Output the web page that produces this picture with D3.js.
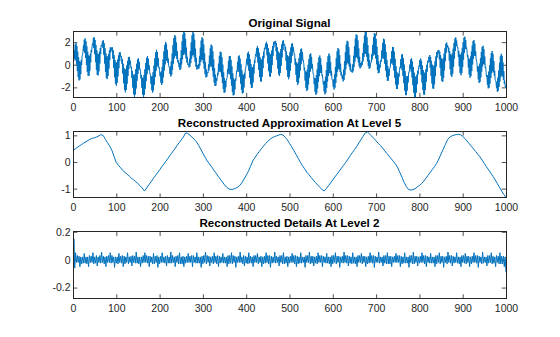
<!DOCTYPE html>
<html><head><meta charset="utf-8">
<script src="https://cdn.jsdelivr.net/npm/d3@7"></script>
<style>body{margin:0;background:#fff}svg{display:block}</style>
</head><body><svg id="c" width="560" height="337"></svg>
<script>
// ---------------- data ----------------
const xTicks = [0,100,200,300,400,500,600,700,800,900,1000];
const titles = ["Original Signal","Reconstructed Approximation At Level 5","Reconstructed Details At Level 2"];
const yTicksOriginal = [-2,0,2];
const yTicksApprox = [-1,0,1];
const yTicksDetails = [-0.2,0,0.2];
const yLimOriginal = [-2.87,2.96];
const yLimApprox = [-1.34,1.152];
const yLimDetails = [-0.279,0.2];

// Original signal, samples 1..1000
const originalStart = 1, originalStep = 1;
const original = [
0.47,0.35,1.28,0.52,1.80,0.40,1.91,0.01,1.65,-0.55,1.16,-1.08,0.66,-1.38,0.31,-1.30,0.23,-0.82,0.43,-0.02,
0.77,0.89,1.10,1.71,1.23,2.21,1.06,2.33,0.60,2.09,-0.02,1.63,-0.62,1.15,-0.98,0.83,-0.97,0.78,-0.53,0.97,0.22,
1.32,1.09,1.62,1.87,1.70,2.35,1.47,2.45,0.94,2.20,0.23,1.75,-0.45,1.28,-0.89,0.98,-0.94,0.94,-0.58,1.15,0.11,
1.48,0.93,1.75,1.65,1.79,2.09,1.50,2.17,0.90,1.91,0.11,1.46,-0.64,1.01,-1.15,0.73,-1.27,0.72,-0.98,0.94,-0.35,
1.27,0.41,1.53,1.09,1.54,1.49,1.21,1.54,0.55,1.28,-0.28,0.84,-1.10,0.42,-1.67,0.18,-1.85,0.20,-1.60,0.46,-1.03,
0.82,-0.31,1.09,0.33,1.10,0.71,0.76,0.75,0.07,0.50,-0.79,0.09,-1.63,-0.29,-2.23,-0.48,-2.44,-0.39,-2.23,-0.07,-1.68,
0.35,-0.99,0.67,-0.38,0.70,-0.01,0.38,0.04,-0.30,-0.19,-1.17,-0.55,-2.01,-0.88,-2.61,-0.98,-2.83,-0.81,-2.63,-0.40,-2.09,
0.09,-1.41,0.47,-0.81,0.56,-0.44,0.27,-0.38,-0.37,-0.58,-1.21,-0.90,-2.04,-1.15,-2.64,-1.17,-2.85,-0.91,-2.65,-0.41,-2.12,
0.16,-1.45,0.62,-0.85,0.77,-0.48,0.54,-0.42,-0.06,-0.60,-0.87,-0.87,-1.68,-1.05,-2.25,-1.01,-2.46,-0.66,-2.26,-0.08,-1.75,
0.57,-1.09,1.10,-0.52,1.32,-0.17,1.13,-0.11,0.57,-0.29,-0.22,-0.54,-1.01,-0.69,-1.58,-0.59,-1.79,-0.18,-1.60,0.47,-1.11,
1.18,-0.50,1.76,0.03,2.02,0.34,1.86,0.36,1.31,0.16,0.55,-0.10,-0.24,-0.24,-0.82,-0.12,-1.04,0.31,-0.89,0.99,-0.45,
1.75,0.11,2.36,0.57,2.63,0.80,2.49,0.75,1.96,0.50,1.19,0.21,0.40,0.04,-0.21,0.16,-0.47,0.60,-0.36,1.29,0.02,
2.06,0.49,2.68,0.87,2.96,1.02,2.82,0.89,2.29,0.56,1.51,0.20,0.70,0.00,0.07,0.09,-0.23,0.52,-0.17,1.21,0.14,
1.98,0.54,2.60,0.83,2.89,0.88,2.75,0.66,2.21,0.25,1.42,-0.17,0.61,-0.42,-0.03,-0.36,-0.35,0.06,-0.33,0.74,-0.08,
1.51,0.25,2.14,0.46,2.43,0.43,2.30,0.13,1.78,-0.35,1.01,-0.83,0.21,-1.12,-0.42,-1.07,-0.74,-0.66,-0.73,0.03,-0.50,
0.81,-0.22,1.45,-0.07,1.78,-0.16,1.68,-0.52,1.19,-1.05,0.46,-1.57,-0.30,-1.88,-0.88,-1.85,-1.18,-1.43,-1.15,-0.72,-0.92,
0.09,-0.65,0.78,-0.53,1.15,-0.66,1.10,-1.05,0.68,-1.62,0.01,-2.15,-0.68,-2.47,-1.20,-2.43,-1.43,-1.99,-1.37,-1.25,-1.11,
-0.40,-0.83,0.34,-0.70,0.76,-0.85,0.78,-1.27,0.43,-1.84,-0.15,-2.39,-0.76,-2.71,-1.20,-2.66,-1.35,-2.19,-1.23,-1.42,-0.92,
-0.53,-0.62,0.25,-0.49,0.74,-0.64,0.82,-1.07,0.54,-1.66,0.04,-2.22,-0.48,-2.54,-0.83,-2.48,-0.92,-2.01,-0.72,-1.22,-0.38,
-0.30,-0.05,0.51,0.09,1.03,-0.07,1.16,-0.52,0.94,-1.14,0.51,-1.72,0.06,-2.06,-0.22,-2.02,-0.23,-1.56,0.01,-0.77,0.39,
0.14,0.74,0.96,0.87,1.49,0.68,1.65,0.19,1.46,-0.46,1.07,-1.09,0.67,-1.48,0.44,-1.47,0.47,-1.05,0.75,-0.30,1.15,
0.58,1.49,1.37,1.60,1.88,1.37,2.03,0.84,1.84,0.12,1.47,-0.57,1.10,-1.02,0.90,-1.08,0.96,-0.72,1.26,-0.03,1.66,
0.79,1.99,1.53,2.07,2.00,1.80,2.11,1.20,1.91,0.42,1.53,-0.35,1.17,-0.87,0.99,-1.00,1.07,-0.72,1.39,-0.10,1.80,
0.65,2.11,1.32,2.16,1.73,1.84,1.80,1.19,1.58,0.35,1.19,-0.48,0.84,-1.07,0.68,-1.28,0.78,-1.06,1.12,-0.52,1.54,
0.17,1.86,0.78,1.89,1.13,1.55,1.16,0.87,0.91,-0.02,0.53,-0.89,0.19,-1.53,0.06,-1.79,0.21,-1.62,0.58,-1.14,1.04,
-0.51,1.38,0.05,1.43,0.37,1.10,0.37,0.40,0.11,-0.50,-0.26,-1.39,-0.57,-2.05,-0.64,-2.32,-0.44,-2.19,0.00,-1.74,0.52,
-1.14,0.91,-0.62,1.00,-0.33,0.70,-0.34,0.03,-0.59,-0.85,-0.93,-1.72,-1.19,-2.38,-1.20,-2.66,-0.92,-2.53,-0.40,-2.09,0.20,
-1.51,0.67,-1.01,0.82,-0.73,0.57,-0.74,-0.05,-0.98,-0.89,-1.29,-1.73,-1.49,-2.36,-1.43,-2.62,-1.07,-2.48,-0.47,-2.05,0.22,
-1.48,0.76,-0.99,0.99,-0.73,0.81,-0.75,0.24,-0.97,-0.55,-1.26,-1.35,-1.42,-1.95,-1.30,-2.19,-0.87,-2.04,-0.19,-1.61,0.57,
-1.07,1.19,-0.60,1.48,-0.37,1.35,-0.41,0.84,-0.65,0.09,-0.93,-0.67,-1.06,-1.25,-0.91,-1.47,-0.43,-1.34,0.30,-0.92,1.11,
-0.41,1.78,0.00,2.12,0.19,2.04,0.10,1.56,-0.17,0.84,-0.48,0.09,-0.62,-0.47,-0.47,-0.70,0.03,-0.58,0.79,-0.21,1.63,
0.25,2.32,0.60,2.68,0.71,2.62,0.55,2.16,0.21,1.45,-0.15,0.71,-0.33,0.15,-0.20,-0.10,0.29,-0.02,1.04,0.30,1.88,
0.69,2.58,0.96,2.95,0.98,2.89,0.73,2.43,0.31,1.73,-0.12,0.98,-0.36,0.41,-0.27,0.15,0.19,0.20,0.93,0.47,1.75,
0.79,2.44,0.97,2.81,0.90,2.74,0.56,2.29,0.05,1.60,-0.45,0.86,-0.75,0.29,-0.71,0.02,-0.28,0.05,0.43,0.28,1.25,
0.55,1.93,0.66,2.30,0.51,2.24,0.09,1.81,-0.50,1.13,-1.06,0.42,-1.42,-0.12,-1.41,-0.38,-1.00,-0.35,-0.30,-0.13,0.51,
0.11,1.20,0.18,1.58,-0.02,1.56,-0.50,1.16,-1.14,0.53,-1.75,-0.13,-2.14,-0.63,-2.15,-0.84,-1.75,-0.77,-1.05,-0.53,-0.22,
-0.30,0.49,-0.24,0.90,-0.47,0.93,-0.97,0.58,-1.64,0.02,-2.28,-0.57,-2.68,-0.98,-2.69,-1.12,-2.28,-1.00,-1.57,-0.71,-0.72,
-0.45,0.03,-0.38,0.48,-0.61,0.56,-1.13,0.28,-1.81,-0.21,-2.46,-0.70,-2.86,-1.03,-2.87,-1.08,-2.46,-0.88,-1.72,-0.53,-0.85,
-0.23,-0.07,-0.14,0.42,-0.36,0.55,-0.88,0.34,-1.57,-0.07,-2.22,-0.48,-2.63,-0.72,-2.65,-0.69,-2.23,-0.41,-1.49,0.00,-0.61,
0.35,0.18,0.46,0.70,0.24,0.86,-0.28,0.69,-0.99,0.34,-1.66,0.00,-2.09,-0.16,-2.12,-0.06,-1.73,0.29,-1.01,0.74,-0.15,
1.12,0.63,1.24,1.14,1.02,1.31,0.47,1.16,-0.27,0.84,-0.97,0.55,-1.44,0.44,-1.52,0.59,-1.17,0.98,-0.50,1.46,0.32,
1.85,1.05,1.97,1.52,1.72,1.67,1.14,1.51,0.36,1.20,-0.40,0.92,-0.93,0.84,-1.07,1.02,-0.79,1.43,-0.18,1.93,0.56,
2.32,1.23,2.42,1.64,2.14,1.73,1.52,1.54,0.69,1.22,-0.13,0.94,-0.72,0.87,-0.93,1.07,-0.73,1.50,-0.20,2.01,0.46,
2.40,1.05,2.48,1.39,2.18,1.42,1.52,1.19,0.64,0.84,-0.23,0.56,-0.87,0.50,-1.15,0.72,-1.01,1.17,-0.56,1.70,0.03,
2.10,0.54,2.18,0.81,1.87,0.79,1.20,0.52,0.29,0.15,-0.61,-0.13,-1.29,-0.17,-1.61,0.09,-1.52,0.58,-1.12,1.14,-0.60,
1.57,-0.14,1.68,0.07,1.39,0.01,0.72,-0.29,-0.18,-0.66,-1.08,-0.91,-1.76,-0.92,-2.09,-0.61,-2.03,-0.06,-1.66,0.56,-1.17,
1.04,-0.76,1.21,-0.57,0.96,-0.66,0.33,-0.97,-0.53,-1.33,-1.40,-1.55,-2.06,-1.50,-2.38,-1.14,-2.31,-0.52,-1.95,0.18,-1.48,
0.74,-1.09,0.97,-0.93,0.79,-1.03,0.22,-1.33,-0.58,-1.68,-1.40,-1.87,-2.02,-1.76
];

// Approximation at level 5, one value every 5 samples (0..1000)
const approxStart = 0, approxStep = 5;
const approx = [
0.44,0.49,0.55,0.60,0.66,0.71,0.76,0.81,0.86,0.89,
0.91,0.94,0.98,1.03,0.99,0.84,0.72,0.59,0.43,0.20,
-0.02,-0.12,-0.22,-0.32,-0.39,-0.46,-0.53,-0.61,-0.67,-0.74,
-0.81,-0.89,-0.98,-1.09,-0.98,-0.86,-0.75,-0.63,-0.52,-0.41,
-0.30,-0.18,-0.07,0.04,0.15,0.27,0.38,0.49,0.61,0.72,
0.83,0.94,1.09,1.07,1.01,0.93,0.85,0.76,0.63,0.48,
0.33,0.18,0.04,-0.07,-0.18,-0.30,-0.41,-0.53,-0.64,-0.75,
-0.86,-0.95,-1.01,-1.03,-1.02,-0.99,-0.95,-0.88,-0.78,-0.64,
-0.50,-0.35,-0.17,0.04,0.16,0.28,0.39,0.50,0.60,0.69,
0.78,0.85,0.91,0.95,0.98,1.01,1.04,1.01,0.93,0.83,
0.70,0.57,0.43,0.29,0.14,-0.01,-0.14,-0.26,-0.38,-0.48,
-0.58,-0.68,-0.77,-0.86,-0.95,-1.03,-1.09,-1.00,-0.89,-0.78,
-0.67,-0.56,-0.45,-0.34,-0.23,-0.12,-0.01,0.11,0.23,0.35,
0.46,0.58,0.71,0.84,0.97,1.09,1.13,1.05,0.97,0.88,
0.79,0.70,0.62,0.52,0.42,0.32,0.22,0.12,0.02,-0.08,
-0.22,-0.40,-0.58,-0.77,-0.93,-1.03,-1.05,-1.04,-1.00,-0.94,
-0.88,-0.81,-0.72,-0.61,-0.50,-0.39,-0.28,-0.17,-0.05,0.12,
0.30,0.48,0.66,0.84,0.93,0.98,1.01,1.03,1.04,1.02,
0.96,0.88,0.79,0.69,0.59,0.49,0.39,0.29,0.19,0.07,
-0.06,-0.18,-0.30,-0.42,-0.54,-0.67,-0.81,-0.95,-1.09,-1.22,
-1.34
];

// Details at level 2, one value every 2 samples (0..1000)
const detailsStart = 0, detailsStep = 2;
const details = [
-0.28,0.15,-0.06,
0.05,-0.02,0.03,-0.02,0.025,-0.05,0.02,-0.03,0.02,-0.025,
0.045,-0.025,0.02,-0.03,0.02,-0.05,0.03,-0.02,0.025,-0.02,
0.05,-0.03,0.02,-0.025,0.03,-0.045,0.02,-0.02,0.03,-0.025,
0.055,-0.02,0.025,-0.03,0.02,-0.05,0.025,-0.02,0.03,-0.02,
0.05,-0.025,0.03,-0.02,0.02,-0.055,0.02,-0.025,0.02,-0.03,
0.045,-0.02,0.025,-0.025,0.03,-0.05,0.025,-0.03,0.02,-0.02,
0.05,-0.03,0.02,-0.02,0.025,-0.045,0.03,-0.02,0.025,-0.025,
0.055,-0.025,0.02,-0.03,0.02,-0.05,0.02,-0.025,0.03,-0.02,
0.05,-0.02,0.03,-0.025,0.025,-0.05,0.025,-0.02,0.02,-0.03,
0.045,-0.03,0.025,-0.02,0.03,-0.055,0.02,-0.03,0.025,-0.02,
0.05,-0.02,0.02,-0.025,0.025,-0.045,0.03,-0.025,0.02,-0.025,
0.055,-0.025,0.03,-0.02,0.02,-0.05,0.025,-0.02,0.03,-0.03,
0.05,-0.03,0.02,-0.03,0.025,-0.05,0.02,-0.025,0.025,-0.02,
0.045,-0.02,0.025,-0.02,0.03,-0.05,0.03,-0.02,0.02,-0.025,
0.05,-0.025,0.02,-0.025,0.02,-0.055,0.025,-0.03,0.03,-0.02,
0.055,-0.03,0.03,-0.02,0.025,-0.045,0.02,-0.02,0.025,-0.03,
0.05,-0.02,0.025,-0.03,0.03,-0.05,0.025,-0.025,0.02,-0.02,
0.045,-0.025,0.02,-0.025,0.02,-0.05,0.03,-0.03,0.03,-0.025,
0.05,-0.03,0.03,-0.02,0.025,-0.055,0.02,-0.02,0.025,-0.02,
0.055,-0.02,0.02,-0.03,0.03,-0.045,0.025,-0.025,0.02,-0.03,
0.05,-0.025,0.025,-0.025,0.02,-0.05,0.03,-0.02,0.03,-0.02,
0.045,-0.03,0.02,-0.02,0.025,-0.05,0.02,-0.03,0.025,-0.025,
0.05,-0.02,0.03,-0.03,0.03,-0.055,0.025,-0.025,0.02,-0.02,
0.055,-0.025,0.025,-0.02,0.02,-0.045,0.03,-0.02,0.03,-0.03,
0.05,-0.03,0.02,-0.025,0.025,-0.05,0.02,-0.025,0.025,-0.02,
0.045,-0.02,0.03,-0.03,0.03,-0.05,0.025,-0.03,0.02,-0.025,
0.05,-0.025,0.02,-0.02,0.02,-0.055,0.03,-0.02,0.03,-0.02,
0.055,-0.03,0.025,-0.025,0.025,-0.045,0.02,-0.025,0.025,-0.03,
0.05,-0.02,0.03,-0.02,0.03,-0.05,0.025,-0.02,0.02,-0.025,
0.045,-0.025,0.02,-0.03,0.02,-0.05,0.03,-0.03,0.03,-0.02,
0.05,-0.03,0.025,-0.02,0.025,-0.055,0.02,-0.02,0.025,-0.025,
0.055,-0.02,0.03,-0.025,0.03,-0.045,0.025,-0.025,0.02,-0.03,
0.05,-0.025,0.02,-0.03,0.02,-0.05,0.03,-0.02,0.03,-0.02,
0.045,-0.03,0.025,-0.02,0.025,-0.05,0.02,-0.03,0.025,-0.025,
0.05,-0.02,0.03,-0.025,0.03,-0.055,0.025,-0.02,0.02,-0.02,
0.055,-0.025,0.02,-0.02,0.02,-0.045,0.03,-0.025,0.03,-0.03,
0.05,-0.03,0.025,-0.03,0.025,-0.05,0.02,-0.02,0.025,-0.02,
0.045,-0.02,0.03,-0.02,0.03,-0.05,0.025,-0.03,0.02,-0.025,
0.05,-0.025,0.02,-0.025,0.02,-0.055,0.03,-0.02,0.03,-0.03,
0.055,-0.03,0.025,-0.02,0.025,-0.045,0.02,-0.025,0.025,-0.02,
0.05,-0.02,0.03,-0.03,0.03,-0.05,0.025,-0.02,0.02,-0.025,
0.045,-0.025,0.02,-0.025,0.02,-0.05,0.03,-0.03,0.03,-0.02,
0.05,-0.03,0.025,-0.02,0.025,-0.055,0.02,-0.02,0.025,-0.03,
0.055,-0.02,0.03,-0.025,0.03,-0.045,0.025,-0.025,0.02,-0.02,
0.05,-0.025,0.02,-0.03,0.02,-0.05,0.03,-0.02,0.03,-0.025,
0.045,-0.03,0.025,-0.02,0.025,-0.05,0.02,-0.03,0.025,-0.02,
0.05,-0.02,0.03,-0.025,0.03,-0.055,0.025,-0.02,0.02,-0.03,
0.055,-0.025,0.02,-0.02,0.02,-0.045,0.03,-0.025,0.03,-0.02,
0.05,-0.03,0.025,-0.025,0.02,-0.05,0.03,-0.02,0.025,-0.03,
0.05,-0.03,0.025,-0.03,0.025,-0.05,0.02,
-0.09
];

// ---------------- drawing ----------------
const svg = d3.select("#c");
const FONT = "'Liberation Sans', Arial, Helvetica, sans-serif";
const AX = "#262626";
const LINE = "#0072BD";
const left = 73, right = 506;
const x = d3.scaleLinear().domain([0,1000]).range([left,right]);

const panels = [
  {top:31.3, bottom:97.2, series:original, start:originalStart, step:originalStep, dom:yLimOriginal, ticks:yTicksOriginal, title:titles[0]},
  {top:131.3, bottom:197.7, series:approx, start:approxStart, step:approxStep, dom:yLimApprox, ticks:yTicksApprox, title:titles[1]},
  {top:231.8, bottom:298.6, series:details, start:detailsStart, step:detailsStep, dom:yLimDetails, ticks:yTicksDetails, title:titles[2]}
];

const T = 4.3;
panels.forEach((p,i) => {
  const y = d3.scaleLinear().domain(p.dom).range([p.bottom,p.top]);
  const g = svg.append("g");
  const cid = "clip"+i;
  svg.append("clipPath").attr("id",cid).append("rect")
    .attr("x",left).attr("y",p.top).attr("width",right-left).attr("height",p.bottom-p.top);

  const styleAxis = a => {
    a.select(".domain").remove();
    a.selectAll(".tick line").attr("stroke",AX).attr("stroke-width",0.8);
    a.selectAll("text").attr("fill",AX).attr("font-family",FONT).attr("font-size","10.5px");
    a.attr("font-family",FONT).attr("font-size","10.5px");
  };
  g.append("g").attr("transform",`translate(0,${p.bottom})`)
    .call(d3.axisBottom(x).tickValues(xTicks).tickSizeInner(-T).tickSizeOuter(0).tickPadding(6.3).tickFormat(d=>String(d)))
    .call(styleAxis);
  g.append("g").attr("transform",`translate(0,${p.top})`)
    .call(d3.axisTop(x).tickValues(xTicks).tickSizeInner(-T).tickSizeOuter(0).tickFormat(()=>""))
    .call(styleAxis);
  g.append("g").attr("transform",`translate(${left},0)`)
    .call(d3.axisLeft(y).tickValues(p.ticks).tickSizeInner(-T).tickSizeOuter(0).tickPadding(2.5).tickFormat(d=>String(d)))
    .call(styleAxis);
  g.append("g").attr("transform",`translate(${right},0)`)
    .call(d3.axisRight(y).tickValues(p.ticks).tickSizeInner(-T).tickSizeOuter(0).tickFormat(()=>""))
    .call(styleAxis);

  const line = d3.line().x((d,j)=>x(p.start + j*p.step)).y(d=>y(d));
  g.append("path").datum(p.series)
    .attr("clip-path",`url(#${cid})`)
    .attr("d",line).attr("fill","none").attr("stroke",LINE)
    .attr("stroke-width",1).attr("stroke-linejoin","round");

  g.append("rect").attr("x",left).attr("y",p.top).attr("width",right-left).attr("height",p.bottom-p.top)
    .attr("fill","none").attr("stroke",AX).attr("stroke-width",1).attr("shape-rendering","crispEdges");

  g.append("text").attr("x",(left+right)/2).attr("y",p.top-4.6)
    .attr("text-anchor","middle").attr("font-family",FONT).attr("font-weight","bold")
    .attr("font-size","11.6px").attr("fill","#000").text(p.title);
});
</script>
</body></html>
